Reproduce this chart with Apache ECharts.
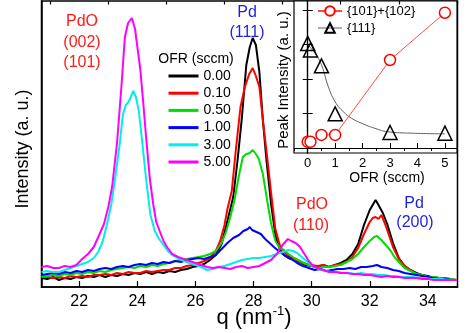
<!DOCTYPE html>
<html><head><meta charset="utf-8">
<script src="https://cdn.jsdelivr.net/npm/echarts@6/dist/echarts.min.js"></script>
<style>html,body{margin:0;padding:0;background:#fff}#c{width:474px;height:333px}</style>
</head><body><div id="c"></div>
<script>
const FONT = '"Liberation Sans", Arial, sans-serif';
const ofrLabels = ['0.00','0.10','0.50','1.00','3.00','5.00'];
const lineColors = ['#000000','#ff0000','#00dd00','#0000ff','#00eeee','#ff00ff'];

const s000 = [[20.7,9],[20.9,8],[21.1,10],[21.3,7],[21.5,9],[21.7,8],[21.9,10],[22.1,9],[22.3,11],[22.5,10],[22.7,12],[22.9,10],[23.1,12],[23.3,11],[23.5,13],[23.7,12],[23.9,14],[24.1,13],[24.3,15],[24.5,13],[24.7,15],[24.9,14],[25.1,16],[25.3,15],[25.5,17],[25.7,18],[25.9,20],[26.1,21],[26.3,23],[26.5,27],[26.7,32],[26.9,43],[27.1,66],[27.3,90],[27.45,127],[27.6,170],[27.75,222],[27.87,240],[27.97,249],[28.08,242],[28.2,215],[28.32,167],[28.45,125],[28.6,84],[28.75,52],[28.9,38],[29.05,32],[29.2,29],[29.4,27],[29.6,25],[29.8,22],[30.0,21],[30.2,20],[30.4,22],[30.6,20],[30.8,22],[31.0,24],[31.2,27],[31.4,33],[31.6,43],[31.8,62],[32.0,77],[32.1,82],[32.2,87],[32.3,82],[32.45,74],[32.6,63],[32.8,44],[33.0,29],[33.2,21],[33.4,17],[33.6,14],[33.8,12],[34.0,11],[34.2,9],[34.4,9],[34.6,8],[34.8,7],[35.0,7]];
const s010 = [[20.7,11],[20.9,10],[21.1,9],[21.3,10],[21.5,9],[21.7,11],[21.9,10],[22.1,11],[22.3,10],[22.5,12],[22.7,12],[22.9,13],[23.1,12],[23.3,14],[23.5,13],[23.7,15],[23.9,14],[24.1,14],[24.3,16],[24.5,15],[24.7,16],[24.9,17],[25.1,17],[25.3,19],[25.5,19],[25.7,21],[25.9,22],[26.1,24],[26.3,26],[26.5,29],[26.7,36],[26.85,46],[27.0,62],[27.1,78],[27.25,96],[27.4,140],[27.55,180],[27.7,200],[27.85,213],[27.97,219],[28.08,211],[28.2,200],[28.32,167],[28.46,132],[28.6,95],[28.75,58],[28.9,42],[29.05,35],[29.2,31],[29.4,28],[29.6,25],[29.8,23],[30.0,22],[30.2,21],[30.4,22],[30.6,20],[30.8,22],[31.0,23],[31.2,25],[31.4,30],[31.6,39],[31.8,53],[32.0,65],[32.1,69],[32.2,70],[32.3,68],[32.4,72],[32.5,65],[32.6,57],[32.8,40],[33.0,28],[33.2,21],[33.4,17],[33.6,13],[33.8,12],[34.0,10],[34.2,10],[34.4,9],[34.6,9],[34.8,8],[35.0,7]];
const s050 = [[20.7,10],[20.9,11],[21.1,12],[21.3,11],[21.5,13],[21.7,12],[21.9,14],[22.1,13],[22.3,15],[22.5,14],[22.7,16],[22.9,15],[23.1,17],[23.3,18],[23.5,19],[23.7,20],[23.9,19],[24.1,21],[24.3,20],[24.5,22],[24.7,21],[24.9,23],[25.1,24],[25.3,26],[25.5,27],[25.7,28],[25.9,29],[26.1,30],[26.3,31],[26.5,33],[26.7,36],[26.9,44],[27.05,55],[27.2,70],[27.35,88],[27.5,112],[27.63,130],[27.75,133],[27.87,134],[27.97,137],[28.08,133],[28.18,128],[28.32,113],[28.46,88],[28.6,64],[28.75,46],[28.9,39],[29.05,37],[29.2,33],[29.4,29],[29.6,26],[29.8,23],[30.0,21],[30.2,19],[30.4,20],[30.6,20],[30.8,21],[31.0,22],[31.2,25],[31.4,28],[31.6,33],[31.8,40],[32.0,46],[32.15,50],[32.25,51],[32.4,47],[32.55,42],[32.7,37],[32.85,30],[33.0,25],[33.2,19],[33.4,16],[33.6,13],[33.8,12],[34.0,10],[34.2,10],[34.4,9],[34.6,8],[34.8,8],[35.0,7]];
const s100 = [[20.7,12],[20.9,13],[21.1,14],[21.3,13],[21.5,15],[21.7,14],[21.9,16],[22.1,15],[22.3,17],[22.5,16],[22.7,18],[22.9,19],[23.1,18],[23.3,20],[23.5,21],[23.7,20],[23.9,22],[24.1,23],[24.3,22],[24.5,24],[24.7,23],[24.9,25],[25.1,24],[25.3,26],[25.5,25],[25.7,27],[25.9,28],[26.1,29],[26.3,28],[26.5,30],[26.7,32],[26.9,38],[27.1,44],[27.3,49],[27.5,52],[27.65,56],[27.8,58],[27.87,60],[27.95,57],[28.1,55],[28.25,53],[28.4,48],[28.55,44],[28.7,40],[28.9,35],[29.1,31],[29.3,28],[29.5,24],[29.7,21],[29.9,19],[30.1,17],[30.3,18],[30.5,16],[30.7,17],[30.9,18],[31.1,18],[31.3,19],[31.5,18],[31.7,20],[31.9,20],[32.1,21],[32.25,22],[32.4,20],[32.6,19],[32.8,17],[33.0,16],[33.2,14],[33.4,13],[33.6,12],[33.8,11],[34.0,10],[34.2,9],[34.4,8],[34.6,8],[34.8,7],[35.0,7]];
const s300 = [[20.7,15],[20.9,16],[21.1,15],[21.3,15],[21.5,17],[21.7,19],[21.9,21],[22.1,23],[22.3,25],[22.5,29],[22.65,35],[22.8,45],[22.95,62],[23.1,82],[23.25,112],[23.4,145],[23.5,172],[23.6,182],[23.7,185],[23.8,192],[23.86,196],[23.95,190],[24.05,176],[24.15,150],[24.3,108],[24.45,72],[24.6,56],[24.75,48],[24.9,42],[25.05,36],[25.2,32],[25.4,29],[25.6,26],[25.8,24],[26.0,22],[26.2,20],[26.4,17],[26.6,18],[26.8,20],[27.0,21],[27.2,23],[27.4,25],[27.6,27],[27.8,28],[28.0,29],[28.2,29],[28.4,30],[28.6,31],[28.8,33],[29.0,35],[29.2,37],[29.35,36],[29.5,34],[29.7,29],[29.9,24],[30.1,20],[30.3,17],[30.5,16],[30.7,15],[30.9,15],[31.1,14],[31.3,14],[31.5,13],[31.7,14],[31.9,13],[32.1,13],[32.3,12],[32.5,12],[32.7,11],[32.9,11],[33.1,10],[33.3,10],[33.5,10],[33.7,9],[33.9,9],[34.1,8],[34.3,8],[34.5,8],[34.7,7],[35.0,7]];
const s500 = [[20.7,20],[20.9,21],[21.1,19],[21.3,19],[21.5,21],[21.7,20],[21.9,22],[22.1,28],[22.3,33],[22.5,40],[22.7,53],[22.85,63],[23.0,80],[23.13,100],[23.3,144],[23.45,200],[23.57,250],[23.68,264],[23.81,269],[23.92,258],[24.0,240],[24.1,218],[24.2,185],[24.3,150],[24.43,108],[24.55,82],[24.65,65],[24.78,55],[24.9,46],[25.02,40],[25.2,33],[25.4,30],[25.6,28],[25.8,26],[26.0,24],[26.2,22],[26.4,20],[26.6,19],[26.8,20],[27.0,19],[27.2,18],[27.4,20],[27.6,21],[27.8,19],[28.0,20],[28.2,21],[28.4,24],[28.6,27],[28.8,33],[29.0,42],[29.18,48],[29.3,46],[29.45,44],[29.6,40],[29.75,33],[29.9,26],[30.05,21],[30.2,19],[30.4,17],[30.6,15],[30.8,15],[31.0,14],[31.2,14],[31.4,13],[31.6,13],[31.8,12],[32.0,12],[32.2,11],[32.4,10],[32.6,11],[32.8,10],[33.0,10],[33.2,9],[33.4,9],[33.6,9],[33.8,8],[34.0,8],[34.2,7],[34.4,7],[34.6,7],[34.8,7],[35.0,7]];
const mainSeries = [s000, s010, s050, s100, s300, s500];

const xTicks = [22,24,26,28,30,32,34];
const xMinorTicks = [21,23,25,27,29,31,33,35];
const insetXTicks = [0,1,2,3,4,5];
const insetXMinor = [-0.5,0.5,1.5,2.5,3.5,4.5];
const insetYTicks = [0,1,2,3,4];

const ofrPts = [0,0.1,0.5,1,3,5];
const pdoPeak = [0.18,0.18,0.38,0.38,2.55,3.92];
const pd111Peak = [3.03,2.84,2.38,0.99,0.45,0.43];
const fitX = [0,0.27,0.5,0.75,1.0,1.3,1.6,1.96,2.45,2.93,3.78,5.0];
const fitY = [2.99,2.74,2.41,1.78,1.34,1.05,0.86,0.72,0.57,0.47,0.43,0.41];

const zip = (a,b) => a.map((v,i)=>[v,b[i]]);
const chart = echarts.init(document.getElementById('c'), null, {renderer:'canvas'});

const series = mainSeries.map((d,i)=>({
  name: ofrLabels[i], type:'line', xAxisIndex:0, yAxisIndex:0, data:d,
  symbol:'none', lineStyle:{color:lineColors[i], width:2}, itemStyle:{color:lineColors[i]}, z:2+i*0.01
}));
series.push({
  name:'fit', type:'line', xAxisIndex:2, yAxisIndex:1, data:zip(fitX,fitY), smooth:true,
  symbol:'none', lineStyle:{color:'#606060', width:1}, silent:true, z:3
});
series.push({
  name:'{101}+{102}', type:'line', xAxisIndex:2, yAxisIndex:1, data:zip(ofrPts,pdoPeak),
  symbol:'circle', symbolSize:11, lineStyle:{color:'#ff4a4a', width:1},
  itemStyle:{color:'#ffffff', borderColor:'#ff0000', borderWidth:1.5}, z:4
});
series.push({
  name:'{111}', type:'line', xAxisIndex:2, yAxisIndex:1, data:zip(ofrPts,pd111Peak),
  symbol:'triangle', symbolSize:14, lineStyle:{color:'#606060', width:1, opacity:0},
  itemStyle:{color:'rgba(255,255,255,0)', borderColor:'#000', borderWidth:1.5}, z:4
});

const txt = (t,x,y,color,size,rot) => ({
  type:'text', x:x, y:y, rotation: rot||0, z:100,
  style:{text:t, fill:color, font: size+'px '+FONT, align:'center', verticalAlign:'middle'}
});
const RED='#ff1a1a', BLUE='#1f1fe0';

chart.setOption({
  animation:false,
  backgroundColor:'#fff',
  textStyle:{fontFamily:FONT},
  grid:[
    {left:41.5, top:1, right:16.5, bottom:46, show:true, borderColor:'#000', borderWidth:1.5, backgroundColor:'transparent'},
    {left:294, top:1, right:17, bottom:180, show:true, borderColor:'#000', borderWidth:1.2, backgroundColor:'#fff'}
  ],
  xAxis:[
    {gridIndex:0, type:'value', min:20.7, max:35.02,
     axisLine:{show:true, lineStyle:{color:'#000', width:1.5}},
     axisTick:{show:true, inside:true, length:6, customValues:xTicks, lineStyle:{color:'#000', width:1.2}},
     axisLabel:{show:true, customValues:xTicks, fontSize:16, color:'#000', margin:7, fontFamily:FONT},
     splitLine:{show:false}},
    {gridIndex:0, type:'value', min:20.7, max:35.02,
     axisLine:{show:false},
     axisTick:{show:true, inside:true, length:3.5, customValues:xMinorTicks, lineStyle:{color:'#000', width:1.2}},
     axisLabel:{show:false}, splitLine:{show:false}},
    {gridIndex:1, type:'value', min:-0.5, max:5.44,
     axisLine:{show:true, lineStyle:{color:'#000', width:1.2}},
     axisTick:{show:true, inside:true, length:5, customValues:insetXTicks, lineStyle:{color:'#000', width:1}},
     axisLabel:{show:true, customValues:insetXTicks, fontSize:13, color:'#000', margin:4, fontFamily:FONT},
     splitLine:{show:false}},
    {gridIndex:1, type:'value', min:-0.5, max:5.44,
     axisLine:{show:false},
     axisTick:{show:true, inside:true, length:3, customValues:insetXMinor, lineStyle:{color:'#000', width:1}},
     axisLabel:{show:false}, splitLine:{show:false}}
  ],
  yAxis:[
    {gridIndex:0, type:'value', min:0, max:286,
     axisLine:{show:true, lineStyle:{color:'#000', width:1.5}},
     axisTick:{show:false}, axisLabel:{show:false}, splitLine:{show:false}},
    {gridIndex:1, type:'value', min:-0.145, max:4.26,
     axisLine:{show:true, lineStyle:{color:'#000', width:1.2}},
     axisTick:{show:true, inside:true, length:5, customValues:insetYTicks, lineStyle:{color:'#000', width:1}},
     axisLabel:{show:false}, splitLine:{show:false}},
    {gridIndex:1, type:'value', min:-0.145, max:4.26, position:'right',
     axisLine:{show:true, lineStyle:{color:'#000', width:1.2}},
     axisTick:{show:true, inside:true, length:5, customValues:insetYTicks, lineStyle:{color:'#000', width:1}},
     axisLabel:{show:false}, splitLine:{show:false}}
  ],
  legend:[
    {data:ofrLabels, left:167, top:69, orient:'vertical', itemWidth:30, itemHeight:14, itemGap:3.2,
     icon:'inherit', itemStyle:{opacity:0},
     padding:0, lineStyle:{width:3}, textStyle:{fontSize:14, color:'#000', fontFamily:FONT}, selectedMode:false},
    {data:[{name:'{101}+{102}'},{name:'{111}', lineStyle:{color:'#606060', width:1, opacity:1}}],
     left:317, top:4.5, orient:'vertical', itemWidth:24, itemHeight:12, itemGap:4,
     padding:0, textStyle:{fontSize:13, color:'#000', fontFamily:FONT}, selectedMode:false}
  ],
  graphic:[
    txt('OFR (sccm)',196,59,'#000',14),
    txt('PdO',82,22,RED,16), txt('(002)',82,43,RED,16), txt('(101)',82,63,RED,16),
    txt('Pd',247,13,BLUE,16), txt('(111)',247,33,BLUE,16),
    txt('PdO',312,205,RED,16), txt('(110)',311,226,RED,16),
    txt('Pd',414,204,BLUE,16), txt('(200)',415,223,BLUE,16),
    txt('Intensity (a. u.)',23,149,'#000',18,Math.PI/2),
    txt('Peak Intensity (a. u.)',283.5,80,'#000',15,Math.PI/2),
    txt('OFR (sccm)',387,178,'#000',14),
    {type:'text', x:254, y:317, z:100,
     style:{text:'{a|q (nm}{b|-1}{a|)}', align:'center', verticalAlign:'middle',
       rich:{a:{fontSize:22, fontFamily:FONT, fill:'#000', lineHeight:24, verticalAlign:'bottom'},
             b:{fontSize:13, fontFamily:FONT, fill:'#000', verticalAlign:'top', lineHeight:13}}}}
  ],
  series:series
});
</script></body></html>
